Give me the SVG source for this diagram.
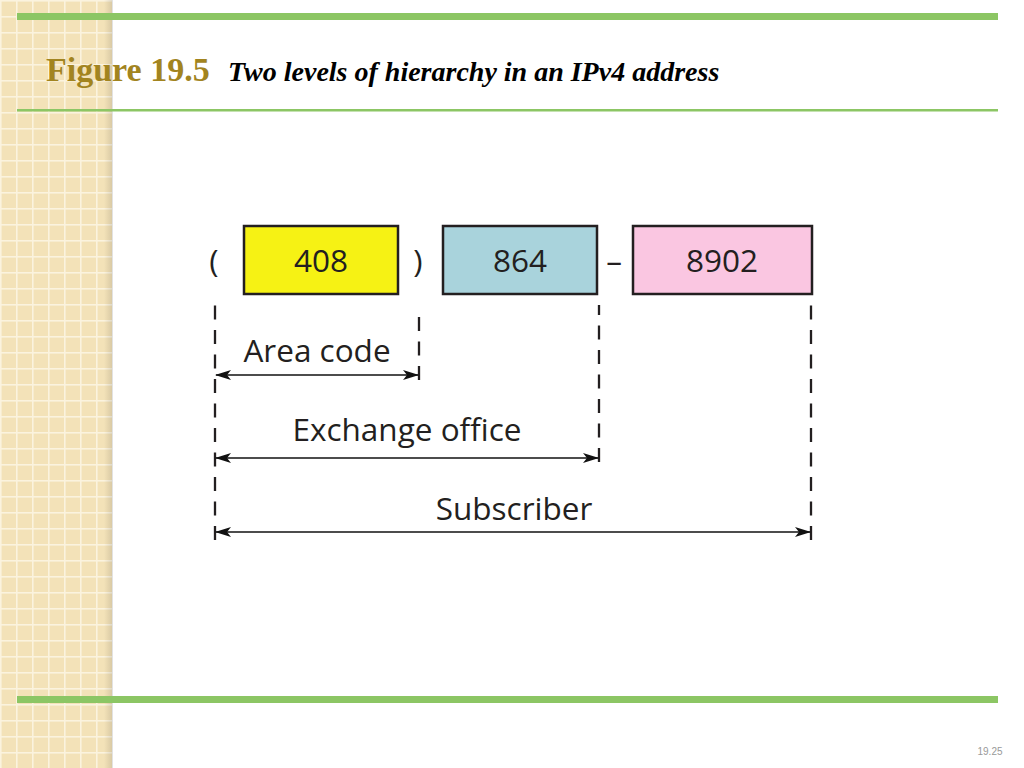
<svg xmlns="http://www.w3.org/2000/svg" width="1024" height="768" viewBox="0 0 1024 768">
<defs>
<pattern id="grid" x="0" y="0" width="16" height="16" patternUnits="userSpaceOnUse">
<rect width="16" height="16" fill="#f3e2b8"/>
<rect x="0" y="0" width="16" height="1.6" fill="#fbf3de"/>
<rect x="0" y="0" width="1.6" height="16" fill="#fbf3de"/>
</pattern>
<linearGradient id="shade" x1="0" x2="1" y1="0" y2="0">
<stop offset="0" stop-color="#000" stop-opacity="0"/>
<stop offset="1" stop-color="#000" stop-opacity="0.12"/>
</linearGradient>
<marker id="ah" viewBox="0 0 16 10" refX="15" refY="5" markerWidth="16" markerHeight="10" markerUnits="userSpaceOnUse" orient="auto-start-reverse">
<path d="M0,0 L16,5 L0,10 L4,5 Z" fill="#111"/>
</marker>
<style>
.box{stroke:#231f20;stroke-width:2.5}
.num{font-family:"Open Sans","Liberation Sans",sans-serif;font-size:31.5px;fill:#231f20;text-anchor:middle}
.lbl{font-family:"Open Sans","Liberation Sans",sans-serif;font-size:31.5px;fill:#231f20;text-anchor:middle}
.dash{stroke:#231f20;stroke-width:2.3;stroke-dasharray:14 10.5;fill:none}
.arr{stroke:#111;stroke-width:1.6;fill:none}
.green{fill:#8cc664}
</style>
</defs>
<rect width="1024" height="768" fill="#ffffff"/>
<rect x="0" y="0" width="112" height="768" fill="url(#grid)"/>
<rect x="104" y="0" width="9" height="768" fill="url(#shade)"/>
<rect class="green" x="17" y="13" width="981" height="7"/>
<rect class="green" x="17" y="109" width="981" height="2.5"/>
<rect class="green" x="17" y="696" width="981" height="7"/>
<text x="46" y="81" font-family="Liberation Serif,serif" font-weight="bold" font-size="34" fill="#a2841f">Figure 19.5</text>
<text x="228" y="81" font-family="Liberation Serif,serif" font-weight="bold" font-style="italic" font-size="28" fill="#000">Two levels of hierarchy in an IPv4 address</text>
<g id="area">
<rect class="box" x="244" y="226" width="154" height="68" fill="#f6f214"/>
<text class="num" x="321" y="272">408</text>
</g>
<g id="exchange">
<rect class="box" x="443" y="226" width="154" height="68" fill="#a9d3dc"/>
<text class="num" x="520" y="272">864</text>
</g>
<g id="subscriber">
<rect class="box" x="633" y="226" width="179" height="68" fill="#fac6e1"/>
<text class="num" x="722" y="272">8902</text>
</g>
<g id="punct">
<text class="num" x="214" y="272">(</text>
<text class="num" x="418" y="272">)</text>
<text class="num" x="614" y="272">–</text>
</g>
<g id="connectors">
<line class="dash" x1="215" y1="540" x2="215" y2="305"/>
<line class="dash" x1="419" y1="380" x2="419" y2="306.5"/>
<line class="dash" x1="599" y1="462" x2="599" y2="305"/>
<line class="dash" x1="811" y1="540" x2="811" y2="305"/>
<line class="arr" x1="216" y1="375" x2="418" y2="375" marker-start="url(#ah)" marker-end="url(#ah)"/>
<line class="arr" x1="216" y1="458" x2="598" y2="458" marker-start="url(#ah)" marker-end="url(#ah)"/>
<line class="arr" x1="216" y1="532" x2="810" y2="532" marker-start="url(#ah)" marker-end="url(#ah)"/>
</g>
<g id="labels">
<text class="lbl" x="317" y="362">Area code</text>
<text class="lbl" x="407" y="441">Exchange office</text>
<text class="lbl" x="514" y="520">Subscriber</text>
</g>
<text x="990" y="755" font-family="Liberation Sans,sans-serif" font-size="10" fill="#999" text-anchor="middle">19.25</text>
</svg>
